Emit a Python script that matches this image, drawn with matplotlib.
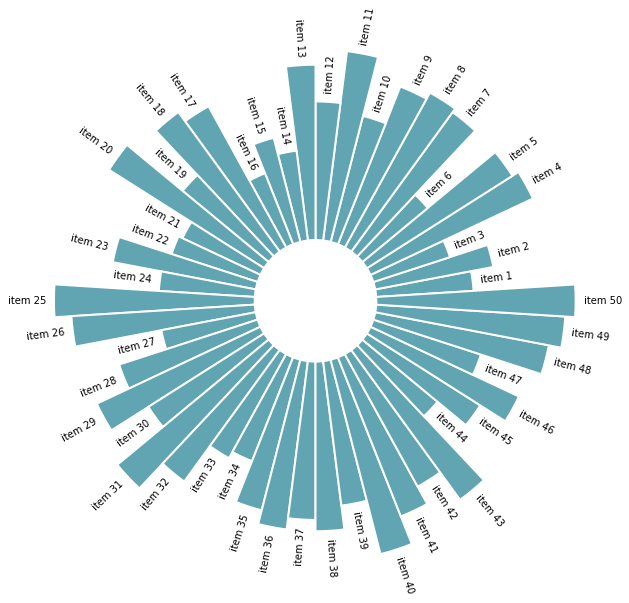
import numpy as np
import pandas as pd
import matplotlib
matplotlib.use("Agg")
import matplotlib.pyplot as plt

names = ['item ' + str(i) for i in range(1, 51)]
values = [26, 42, 14, 84, 79, 17, 79, 82, 77, 49,
          92, 55, 81, 21, 33, 11, 71, 79, 36, 87,
          18, 21, 60, 25, 99, 87, 25, 60, 85, 54,
          96, 72, 41, 36, 67, 77, 69, 77, 60, 99,
          78, 64, 88, 26, 52, 73, 37, 82, 91, 98]

df = pd.DataFrame({'Name': names, 'Value': values})

fig = plt.figure(figsize=(6.29, 6.03), dpi=100)
ax = fig.add_axes([0.0504, 0.0305, 0.9024, 0.9413], polar=True)
ax.axis('off')

lowerLimit = 30
vmax = df['Value'].max()
slope = (vmax - lowerLimit) / vmax
heights = slope * df.Value + lowerLimit
width = 2 * np.pi / len(df.index)
indexes = list(range(1, len(df.index) + 1))
angles = [element * width for element in indexes]

bars = ax.bar(x=angles, height=heights, width=width, bottom=lowerLimit,
              linewidth=1.44, edgecolor="white", color="#61a4b2")
ax.set_ylim(0, 140)

labelPadding = 4
for bar, angle, height, label in zip(bars, angles, heights, df["Name"]):
    rotation = np.rad2deg(angle)
    if np.pi / 2 <= angle < 3 * np.pi / 2:
        alignment = "right"
        rotation = rotation + 180
    else:
        alignment = "left"
    ax.text(x=angle, y=lowerLimit + bar.get_height() + labelPadding, s=label,
            ha=alignment, va='center', rotation=rotation,
            rotation_mode="anchor", fontsize=7.2)

fig.savefig("out.png", dpi=100)
